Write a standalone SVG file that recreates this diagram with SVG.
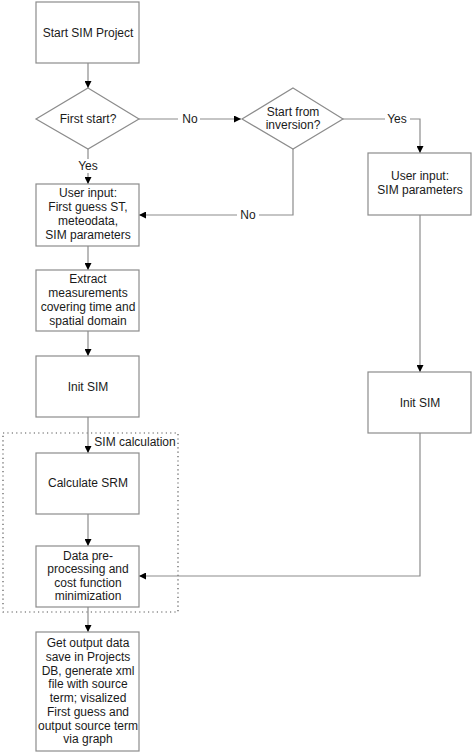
<svg xmlns="http://www.w3.org/2000/svg" width="474" height="754" viewBox="0 0 474 754">
<style>
.box{fill:#fff;stroke:#8c8c8c;stroke-width:1.2}
.ln{fill:none;stroke:#8c8c8c;stroke-width:1.2}
text{font-family:"Liberation Sans",Arial,sans-serif;font-size:12px;fill:#1a1a1a;text-anchor:middle}
</style>
<defs>
<marker id="ah" viewBox="0 0 10 10" refX="10" refY="5" markerWidth="7" markerHeight="7" markerUnits="userSpaceOnUse" orient="auto">
<path d="M0,0 L10,5 L0,10 z" fill="#000"/>
</marker>
</defs>
<rect width="474" height="754" fill="#fff"/>
<g id="group-sim">
<rect x="3" y="433" width="175" height="179" fill="none" stroke="#555" stroke-width="1.2" stroke-dasharray="1.2,3.2"/>
</g>
<g id="connectors">
<path class="ln" d="M88,63 V88" marker-end="url(#ah)"/>
<path class="ln" d="M139,119 H241" marker-end="url(#ah)"/>
<path class="ln" d="M88,149 V184" marker-end="url(#ah)"/>
<path class="ln" d="M343,119 H420 V153" marker-end="url(#ah)"/>
<path class="ln" d="M293,149 V215 H139" marker-end="url(#ah)"/>
<path class="ln" d="M88,246 V270" marker-end="url(#ah)"/>
<path class="ln" d="M88,331 V356" marker-end="url(#ah)"/>
<path class="ln" d="M88,417 V453" marker-end="url(#ah)"/>
<path class="ln" d="M88,514 V546" marker-end="url(#ah)"/>
<path class="ln" d="M88,607 V632" marker-end="url(#ah)"/>
<path class="ln" d="M420,215 V372" marker-end="url(#ah)"/>
<path class="ln" d="M420,433 V576 H139" marker-end="url(#ah)"/>
<rect x="178" y="112" width="22" height="14" fill="#fff"/>
<text x="190" y="123">No</text>
<rect x="385" y="112" width="25" height="14" fill="#fff"/>
<text x="397" y="123">Yes</text>
<rect x="237" y="208" width="22" height="14" fill="#fff"/>
<text x="248" y="219">No</text>
<rect x="76" y="159" width="24" height="14" fill="#fff"/>
<text x="88" y="170">Yes</text>
<rect x="94" y="436" width="82" height="13" fill="#fff"/>
<text x="135" y="446">SIM calculation</text>
</g>
<g id="start">
<rect class="box" x="36" y="2" width="103" height="61"/>
<text x="88" y="37">Start SIM Project</text>
</g>
<g id="first-start">
<path class="box" d="M88,88 L139,119 L88,149 L36,119 Z"/>
<text x="88" y="123">First start?</text>
</g>
<g id="start-inversion">
<path class="box" d="M293,88 L343,119 L293,149 L242,119 Z"/>
<text x="293" y="116">Start from</text>
<text x="293" y="129">inversion?</text>
</g>
<g id="user-input-1">
<rect class="box" x="36" y="184" width="103" height="62"/>
<text x="88" y="197">User input:</text>
<text x="88" y="211">First guess ST,</text>
<text x="88" y="225">meteodata,</text>
<text x="88" y="239">SIM parameters</text>
</g>
<g id="user-input-2">
<rect class="box" x="368" y="153" width="103" height="62"/>
<text x="420" y="180">User input:</text>
<text x="420" y="194">SIM parameters</text>
</g>
<g id="extract">
<rect class="box" x="36" y="270" width="103" height="61"/>
<text x="88" y="283">Extract</text>
<text x="88" y="297">measurements</text>
<text x="88" y="311">covering time and</text>
<text x="88" y="325">spatial domain</text>
</g>
<g id="init-sim-1">
<rect class="box" x="36" y="356" width="103" height="61"/>
<text x="88" y="391">Init SIM</text>
</g>
<g id="init-sim-2">
<rect class="box" x="368" y="372" width="103" height="61"/>
<text x="420" y="407">Init SIM</text>
</g>
<g id="calc-srm">
<rect class="box" x="36" y="453" width="103" height="61"/>
<text x="88" y="487">Calculate SRM</text>
</g>
<g id="data-pre">
<rect class="box" x="36" y="546" width="103" height="61"/>
<text x="88" y="560">Data pre-</text>
<text x="88" y="573">processing and</text>
<text x="88" y="587">cost function</text>
<text x="88" y="600">minimization</text>
</g>
<g id="output">
<rect class="box" x="36" y="632" width="103" height="119"/>
<text x="88" y="647">Get output data</text>
<text x="88" y="661">save in Projects</text>
<text x="88" y="675">DB, generate xml</text>
<text x="88" y="688">file with source</text>
<text x="88" y="702">term; visalized</text>
<text x="88" y="716">First guess and</text>
<text x="88" y="730">output source term</text>
<text x="88" y="743">via graph</text>
</g>
</svg>
